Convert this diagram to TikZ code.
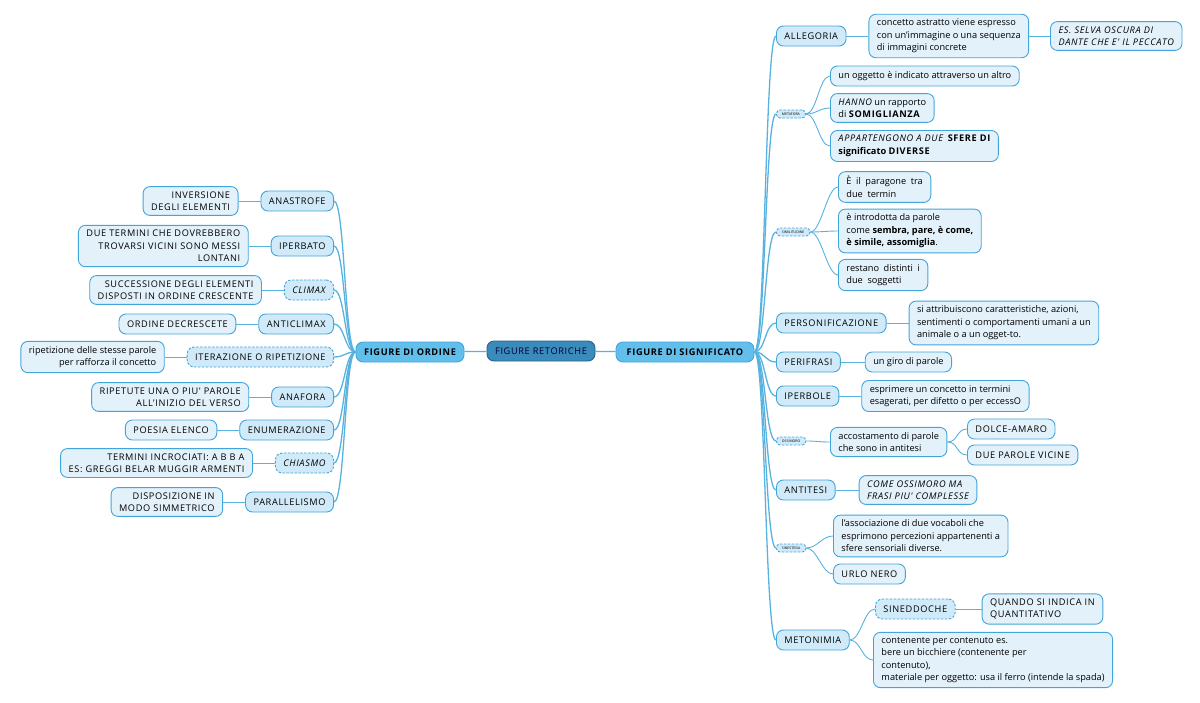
\documentclass[tikz,border=0pt]{standalone}
\usepackage{fontspec}
\setmainfont{Open Sans}
\newfontfamily\capsfam[LetterSpace=7]{Open Sans}
\usetikzlibrary{positioning}
\newcommand{\figfont}{\fontsize{9.2}{12.5}\selectfont}
\newcommand{\airyspace}{\spaceskip=0.5em\relax}
\definecolor{wire}{RGB}{88,178,224}
\definecolor{rim}{RGB}{66,165,218}
\definecolor{notefill}{RGB}{227,241,250}
\definecolor{topicfill}{RGB}{208,234,249}
\definecolor{familyfill}{RGB}{98,190,234}
\definecolor{corefill}{RGB}{58,138,188}
\definecolor{corerim}{RGB}{38,100,142}

\begin{document}
\begin{tikzpicture}[x=1pt,y=-1pt,
  font=\figfont,
  box/.style={rounded corners=7pt,draw=rim,line width=0.9pt,inner xsep=8pt,inner ysep=4.8pt,minimum height=20pt},
  shout/.style={font=\figfont\capsfam},
  core/.style={box,shout,fill=corefill,draw=corerim,text=black!80!blue,minimum width=108pt},
  family/.style={box,fill=familyfill,font=\figfont\capsfam\bfseries},
  figure/.style={box,shout,fill=topicfill},
  hazy/.style={figure,dash pattern=on 2.5pt off 1.5pt},
  tinyfigure/.style={hazy,font=\fontsize{3.5}{4}\selectfont,minimum height=8pt,inner xsep=5.5pt,inner ysep=1pt,rounded corners=3.5pt},
  detail/.style={box,fill=notefill},
  slanted/.style={font=\figfont\capsfam\itshape},
  airy/.style={font=\figfont\airyspace},
  branch/.style={draw=wire,line width=1.3pt},
  twig/.style={draw=wire,line width=0.9pt},
  spread right/.style={to path={.. controls +(11,0) and +(-11,0) .. (\tikztotarget)}},
  spread left/.style={to path={.. controls +(-11,0) and +(11,0) .. (\tikztotarget)}}]

  \useasboundingbox (0,0) rectangle (1200,702);

  % centre of the map
  \node[core] (figure retoriche) at (541,351) {FIGURE RETORICHE};
  \node[family,minimum width=108pt] (ordine) at (410,352) {FIGURE DI ORDINE};
  \node[family,minimum width=138pt] (significato) at (685,352) {FIGURE DI SIGNIFICATO};

  % figure di ordine
  \node[figure,anchor=east] (anastrofe) at (334,201) {ANASTROFE};
  \node[detail,shout,align=right] (inversione) [left=22pt of anastrofe] {INVERSIONE\\DEGLI ELEMENTI};
  \node[figure,anchor=east] (iperbato) at (334,246) {IPERBATO};
  \node[detail,shout,align=right] (lontani) [left=22pt of iperbato] {DUE TERMINI CHE DOVREBBERO\\TROVARSI VICINI SONO MESSI\\LONTANI};
  \node[hazy,slanted,anchor=east] (climax) at (334,290) {CLIMAX};
  \node[detail,shout,align=right] (crescente) [left=22pt of climax] {SUCCESSIONE DEGLI ELEMENTI\\DISPOSTI IN ORDINE CRESCENTE};
  \node[figure,anchor=east] (anticlimax) at (334,324) {ANTICLIMAX};
  \node[detail,shout] (decrescete) [left=22pt of anticlimax] {ORDINE DECRESCETE};
  \node[hazy,anchor=east] (iterazione) at (334,357) {ITERAZIONE O RIPETIZIONE};
  \node[detail,align=right] (ripetizione) [left=22pt of iterazione] {ripetizione delle stesse parole\\per rafforza il concetto};
  \node[figure,anchor=east] (anafora) at (334,397) {ANAFORA};
  \node[detail,shout,align=right] (verso) [left=22pt of anafora] {RIPETUTE UNA O PIU' PAROLE\\ALL'INIZIO DEL VERSO};
  \node[figure,anchor=east] (enumerazione) at (334,430) {ENUMERAZIONE};
  \node[detail,shout] (elenco) [left=22pt of enumerazione] {POESIA ELENCO};
  \node[hazy,slanted,anchor=east] (chiasmo) at (334,463) {CHIASMO};
  \node[detail,shout,align=right] (incrociati) [left=22pt of chiasmo] {TERMINI INCROCIATI: A B B A\\ES: GREGGI BELAR MUGGIR ARMENTI};
  \node[figure,anchor=east] (parallelismo) at (334,502) {PARALLELISMO};
  \node[detail,shout,align=right] (simmetrico) [left=22pt of parallelismo] {DISPOSIZIONE IN\\MODO SIMMETRICO};

  % figure di significato
  \node[figure,anchor=west] (allegoria) at (776,36) {ALLEGORIA};
  \node[detail,align=left] (concetto) [right=22pt of allegoria] {concetto astratto viene espresso\\con un’immagine o una sequenza\\di immagini concrete};
  \node[detail,slanted,align=left] (selva) [right=21pt of concetto] {ES. SELVA OSCURA DI\\DANTE CHE E' IL PECCATO};

  \node[tinyfigure,anchor=west] (metafora) at (776,114) {METAFORA};
  \node[detail,anchor=west] (oggetto) at (830,76) {un oggetto è indicato attraverso un altro};
  \node[detail,anchor=west,align=left] (somiglianza) at (830,108) {{\capsfam\itshape HANNO} un rapporto\\di {\capsfam\bfseries SOMIGLIANZA}};
  \node[detail,anchor=west,align=left] (sfere) at (830,146) {{\capsfam\itshape APPARTENGONO A DUE}\ \ {\capsfam\bfseries SFERE DI}\\\textbf{significato {\capsfam DIVERSE}}};

  \node[tinyfigure,anchor=west] (similitudine) at (776,232) {SIMILITUDINE};
  \node[detail,airy,anchor=west,align=left] (paragone) at (838,187) {È il paragone tra\\due termin};
  \node[detail,anchor=west,align=left] (introdotta) at (838,231) {è introdotta da parole\\come \textbf{sembra, pare, è come,}\\\textbf{è simile, assomiglia}.};
  \node[detail,airy,anchor=west,align=left] (distinti) at (838,275) {restano distinti i\\due soggetti};

  \node[figure,anchor=west] (personificazione) at (776,323) {PERSONIFICAZIONE};
  \node[detail,align=left] (attribuiscono) [right=22pt of personificazione] {si attribuiscono caratteristiche, azioni,\\sentimenti o comportamenti umani a un\\animale o a un ogget-to.};

  \node[figure,anchor=west] (perifrasi) at (776,362) {PERIFRASI};
  \node[detail] (giro) [right=24pt of perifrasi] {un giro di parole};

  \node[figure,anchor=west] (iperbole) at (776,396) {IPERBOLE};
  \node[detail,align=left] (esprimere) [right=22pt of iperbole] {esprimere un concetto in termini\\esagerati, per difetto o per eccessO};

  \node[tinyfigure,anchor=west] (ossimoro) at (776,441) {OSSIMORO};
  \node[detail,anchor=west,align=left] (accostamento) at (830,442) {accostamento di parole\\che sono in antitesi};
  \node[detail,shout,anchor=west] (dolce) at (967,429) {DOLCE-AMARO};
  \node[detail,shout,anchor=west] (vicine) at (967,455) {DUE PAROLE VICINE};

  \node[figure,anchor=west] (antitesi) at (776,490) {ANTITESI};
  \node[detail,slanted,align=left] (complesse) [right=23pt of antitesi] {COME OSSIMORO MA\\FRASI PIU' COMPLESSE};

  \node[tinyfigure,anchor=west] (sinestesia) at (776,548) {SINESTESIA};
  \node[detail,anchor=west,align=left] (associazione) at (833,536) {l’associazione di due vocaboli che\\esprimono percezioni appartenenti a\\sfere sensoriali diverse.};
  \node[detail,shout,anchor=west] (urlo) at (833,574) {URLO NERO};

  \node[figure,anchor=west] (metonimia) at (776,640) {METONIMIA};
  \node[hazy,anchor=west] (sineddoche) at (875,609) {SINEDDOCHE};
  \node[detail,shout,align=left] (quantitativo) [right=26pt of sineddoche] {QUANDO SI INDICA IN\\QUANTITATIVO};
  \node[detail,anchor=west,align=left] (contenente) at (873,660) {contenente per contenuto es.\\bere un bicchiere (contenente per\\contenuto),\\materiale per oggetto: usa il ferro (intende la spada)};

  % connectors
  \draw[branch] (figure retoriche) -- (ordine);
  \draw[branch] (figure retoriche) -- (significato);

  \draw[branch] (ordine.west) to[spread left] (anastrofe.east);
  \draw[branch] (ordine.west) to[spread left] (iperbato.east);
  \draw[branch] (ordine.west) to[spread left] (climax.east);
  \draw[branch] (ordine.west) to[spread left] (anticlimax.east);
  \draw[branch] (ordine.west) to[spread left] (iterazione.east);
  \draw[branch] (ordine.west) to[spread left] (anafora.east);
  \draw[branch] (ordine.west) to[spread left] (enumerazione.east);
  \draw[branch] (ordine.west) to[spread left] (chiasmo.east);
  \draw[branch] (ordine.west) to[spread left] (parallelismo.east);

  \draw[twig] (anastrofe) -- (inversione);
  \draw[twig] (iperbato) -- (lontani);
  \draw[twig] (climax) -- (crescente);
  \draw[twig] (anticlimax) -- (decrescete);
  \draw[twig] (iterazione) -- (ripetizione);
  \draw[twig] (anafora) -- (verso);
  \draw[twig] (enumerazione) -- (elenco);
  \draw[twig] (chiasmo) -- (incrociati);
  \draw[twig] (parallelismo) -- (simmetrico);

  \draw[branch] (significato.east) to[spread right] (allegoria.west);
  \draw[branch] (significato.east) to[spread right] (metafora.west);
  \draw[branch] (significato.east) to[spread right] (similitudine.west);
  \draw[branch] (significato.east) to[spread right] (personificazione.west);
  \draw[branch] (significato.east) to[spread right] (perifrasi.west);
  \draw[branch] (significato.east) to[spread right] (iperbole.west);
  \draw[branch] (significato.east) to[spread right] (ossimoro.west);
  \draw[branch] (significato.east) to[spread right] (antitesi.west);
  \draw[branch] (significato.east) to[spread right] (sinestesia.west);
  \draw[branch] (significato.east) to[spread right] (metonimia.west);

  \draw[twig] (allegoria) -- (concetto);
  \draw[twig] (concetto) -- (selva);
  \draw[twig] (metafora.east) to[spread right] (oggetto.west);
  \draw[twig] (metafora.east) to[spread right] (somiglianza.west);
  \draw[twig] (metafora.east) to[spread right] (sfere.west);
  \draw[twig] (similitudine.east) to[spread right] (paragone.west);
  \draw[twig] (similitudine.east) to[spread right] (introdotta.west);
  \draw[twig] (similitudine.east) to[spread right] (distinti.west);
  \draw[twig] (personificazione) -- (attribuiscono);
  \draw[twig] (perifrasi) -- (giro);
  \draw[twig] (iperbole) -- (esprimere);
  \draw[twig] (ossimoro.east) to[spread right] (accostamento.west);
  \draw[twig] (accostamento.east) to[spread right] (dolce.west);
  \draw[twig] (accostamento.east) to[spread right] (vicine.west);
  \draw[twig] (antitesi) -- (complesse);
  \draw[twig] (sinestesia.east) to[spread right] (associazione.west);
  \draw[twig] (sinestesia.east) to[spread right] (urlo.west);
  \draw[twig] (metonimia.east) to[spread right] (sineddoche.west);
  \draw[twig] (metonimia.east) to[spread right] (contenente.west);
  \draw[twig] (sineddoche) -- (quantitativo);
\end{tikzpicture}
\end{document}
